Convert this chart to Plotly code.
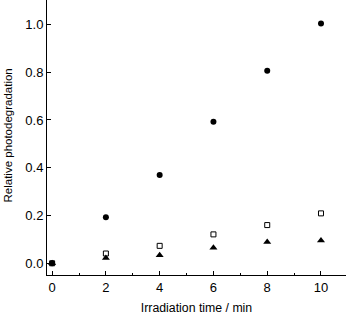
import plotly.graph_objects as go

time_min = [0, 2, 4, 6, 8, 10]
circles = [0.0, 0.193, 0.370, 0.592, 0.806, 1.004]
squares = [0.0, 0.041, 0.073, 0.121, 0.160, 0.209]
triangles = [0.0, 0.022, 0.034, 0.065, 0.089, 0.095]
x_ticks = [0, 2, 4, 6, 8, 10]
y_ticks = [0.0, 0.2, 0.4, 0.6, 0.8, 1.0]

fig = go.Figure()
fig.add_trace(go.Scatter(x=time_min, y=squares, mode="markers",
                         marker=dict(symbol="square-open", size=5, color="black", line=dict(width=1))))
fig.add_trace(go.Scatter(x=time_min, y=triangles, mode="markers",
                         marker=dict(symbol="triangle-up", size=7, color="black")))
fig.add_trace(go.Scatter(x=time_min, y=circles, mode="markers",
                         marker=dict(symbol="circle", size=6, color="black")))

fig.update_layout(
    width=346, height=316,
    margin=dict(l=47, r=0, t=0, b=41),
    paper_bgcolor="white", plot_bgcolor="white",
    showlegend=False,
    font=dict(family="Liberation Sans, Arial", size=12, color="black"),
)
fig.update_xaxes(
    range=[-0.19, 10.93], tickvals=x_ticks, ticktext=[str(v) for v in x_ticks],
    showline=True, linecolor="black", linewidth=1, mirror=False,
    ticks="inside", ticklen=4, tickcolor="black",
    minor=dict(tickvals=[1, 3, 5, 7, 9], ticks="inside", ticklen=2, tickcolor="black"),
    showgrid=False, zeroline=False,
    title=dict(text="Irradiation time / min", standoff=9, font=dict(size=12.3, color="black")),
    tickfont=dict(size=13, color="black"),
)
fig.update_yaxes(
    range=[-0.049, 1.102], tickvals=y_ticks, ticktext=[f"{v:.1f}" for v in y_ticks],
    showline=True, linecolor="black", linewidth=1,
    ticks="inside", ticklen=4, tickcolor="black",
    showgrid=False, zeroline=False,
    tickfont=dict(size=13, color="black"),
)
fig.add_annotation(
    text="Relative photodegradation", textangle=-90,
    xref="paper", yref="paper", x=0, y=0.5, xanchor="center", yanchor="middle",
    xshift=-40, yshift=2, showarrow=False, font=dict(size=11.5, color="black"),
)

fig.write_html("out.html", config={"displayModeBar": False},
               post_script="document.body.style.margin='0';document.body.style.overflow='hidden';")
